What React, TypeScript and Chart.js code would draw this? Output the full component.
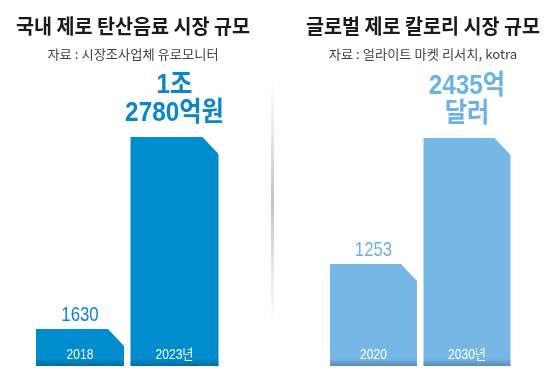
import React, { useEffect, useRef } from 'react';
import { Chart, registerables } from 'chart.js';

Chart.register(...registerables);

// ---- data ----
const domesticYears = ['2018', '2023년'];
const domesticValues = [1630, 12780];
const domesticValueLabels = [['1630'], ['1조', '2780억원']];
const domesticTitle = '국내 제로 탄산음료 시장 규모';
const domesticSource = '자료 : 시장조사업체 유로모니터';

const globalYears = ['2020', '2030년'];
const globalValues = [1253, 2435];
const globalValueLabels = [['1253'], ['2435억', '달러']];
const globalTitle = '글로벌 제로 칼로리 시장 규모';
const globalSource = '자료 : 얼라이트 마켓 리서치, kotra';

const SANS = '"Liberation Sans", "Noto Sans CJK KR", sans-serif';
const KR = '"Noto Sans CJK KR", sans-serif';

function drawText(
  ctx: CanvasRenderingContext2D,
  text: string,
  x: number,
  y: number,
  font: string,
  color: string,
  scaleX = 1
) {
  ctx.save();
  ctx.translate(x, y);
  ctx.scale(scaleX, 1);
  ctx.font = font;
  ctx.fillStyle = color;
  ctx.textAlign = 'center';
  ctx.textBaseline = 'middle';
  ctx.fillText(text, 0, 0);
  ctx.restore();
}

const panelPlugin = {
  id: 'panel',
  afterDatasetsDraw(chart: any, _args: any, opts: any) {
    const ctx: CanvasRenderingContext2D = chart.ctx;
    const meta = chart.getDatasetMeta(0);
    const cut = 17;
    meta.data.forEach((bar: any, i: number) => {
      const { x, y, base, width } = bar.getProps(['x', 'y', 'base', 'width'], true);
      const left = x - width / 2;
      const right = x + width / 2;
      // bottom shading
      const g = ctx.createLinearGradient(0, base - 7, 0, base);
      g.addColorStop(0, 'rgba(0,0,0,0)');
      g.addColorStop(1, 'rgba(0,30,60,0.28)');
      ctx.fillStyle = g;
      ctx.fillRect(left, base - 7, width, 7);
      // chamfered corner
      ctx.fillStyle = '#ffffff';
      ctx.beginPath();
      ctx.moveTo(right - cut, y - 1);
      ctx.lineTo(right + 1, y - 1);
      ctx.lineTo(right + 1, y + cut + 1);
      ctx.closePath();
      ctx.fill();
      // category label inside bar
      drawText(ctx, opts.years[i], x, base - 11, `14px ${SANS}`, '#ffffff', 0.86);
      // value labels
      const lines: string[] = opts.valueLabels[i];
      if (lines.length === 1) {
        drawText(ctx, lines[0], x, y - 14, `21px ${SANS}`, opts.textColor, 0.8);
      } else {
        drawText(ctx, lines[0], x, y - 51, `bold 27px ${SANS}`, opts.textColor, 0.9);
        drawText(ctx, lines[1], x, y - 23, `bold 27px ${SANS}`, opts.textColor, 0.9);
      }
    });
  },
  afterDraw(chart: any, _args: any, opts: any) {
    const ctx: CanvasRenderingContext2D = chart.ctx;
    drawText(ctx, opts.title, opts.titleX, 26, `bold 20px ${KR}`, '#1a1a1a', 0.98);
    drawText(ctx, opts.source, opts.titleX, 54, `13px ${KR}`, '#444444', 1.02);
  },
};

type PanelProps = {
  years: string[];
  values: number[];
  valueLabels: string[][];
  title: string;
  source: string;
  titleX: number;
  barColor: string;
  textColor: string;
  base: number;
  max: number;
  padLeft: number;
  padRight: number;
  barPct: number;
};

function Panel(p: PanelProps) {
  const ref = useRef<HTMLCanvasElement | null>(null);
  useEffect(() => {
    if (!ref.current) return;
    const chart = new Chart(ref.current, {
      type: 'bar',
      data: {
        labels: p.years,
        datasets: [
          {
            data: p.values,
            base: p.base,
            backgroundColor: p.barColor,
            borderWidth: 0,
            barPercentage: p.barPct,
            categoryPercentage: 1,
          } as any,
        ],
      },
      options: {
        animation: false,
        responsive: false,
        devicePixelRatio: 1,
        layout: { padding: { left: p.padLeft, right: p.padRight, top: 62, bottom: 18 } },
        scales: {
          x: { display: false, grid: { display: false } },
          y: { display: false, min: p.base, max: p.max },
        },
        plugins: {
          legend: { display: false },
          tooltip: { enabled: false },
          title: { display: false },
          panel: {
            years: p.years,
            valueLabels: p.valueLabels,
            title: p.title,
            source: p.source,
            titleX: p.titleX,
            textColor: p.textColor,
          },
        } as any,
      },
      plugins: [panelPlugin],
    });
    return () => chart.destroy();
  }, []);
  return <canvas ref={ref} width={280} height={384} style={{ display: 'block', width: 280, height: 384 }} />;
}

export default function App() {
  return (
    <div
      style={{
        position: 'absolute',
        left: 0,
        top: 0,
        width: 560,
        height: 384,
        background: '#ffffff',
        overflow: 'hidden',
      }}
    >
      <div style={{ position: 'absolute', left: 0, top: 0 }}>
        <Panel
          years={domesticYears}
          values={domesticValues}
          valueLabels={domesticValueLabels}
          title={domesticTitle}
          source={domesticSource}
          titleX={133}
          barColor="#008ccf"
          textColor="#0a86cc"
          base={-518}
          max={17135}
          padLeft={32.75}
          padRight={58.25}
          barPct={0.931}
        />
      </div>
      <div style={{ position: 'absolute', left: 280, top: 0 }}>
        <Panel
          years={globalYears}
          values={globalValues}
          valueLabels={globalValueLabels}
          title={globalTitle}
          source={globalSource}
          titleX={143}
          barColor="#76b7e6"
          textColor="#6cb3e5"
          base={296}
          max={3148}
          padLeft={46.75}
          padRight={46.25}
          barPct={0.93}
        />
      </div>
      <div
        style={{
          position: 'absolute',
          left: 271,
          top: 78,
          width: 3,
          height: 248,
          background:
            'linear-gradient(to bottom, rgba(0,0,0,0) 0%, rgba(0,0,0,0.08) 20%, rgba(0,0,0,0.24) 50%, rgba(0,0,0,0.08) 80%, rgba(0,0,0,0) 100%)',
          filter: 'blur(0.6px)',
        }}
      />
    </div>
  );
}
